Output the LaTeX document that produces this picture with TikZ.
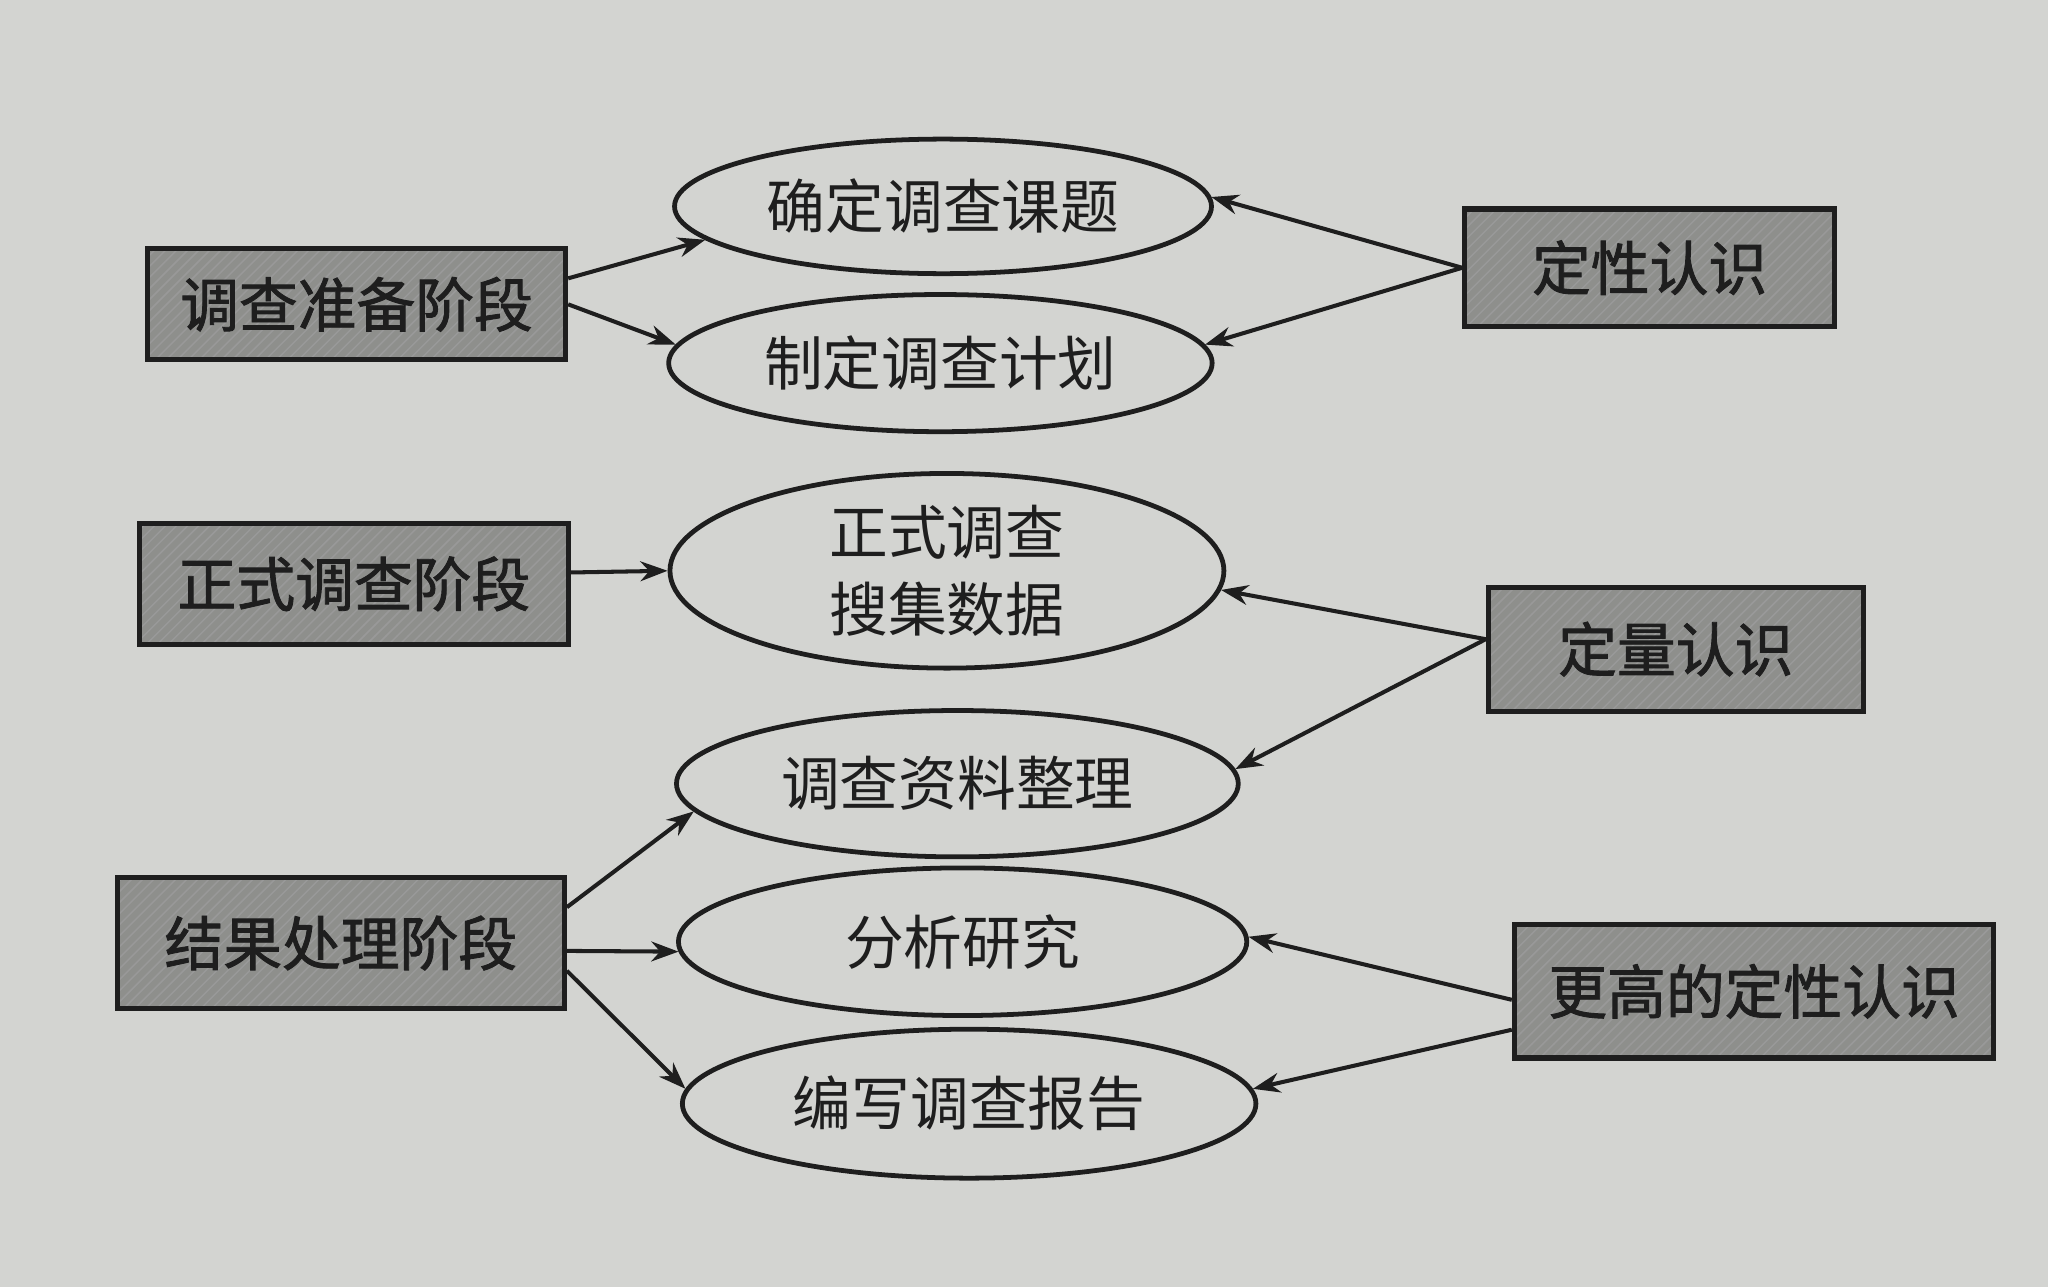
\documentclass[tikz,border=0pt]{standalone}
\usepackage{fontspec}
\setmainfont{Noto Sans CJK SC}[AutoFakeBold=1.5]
\usetikzlibrary{shapes.geometric,arrows.meta,patterns}
\definecolor{paper}{HTML}{D3D4D1}
\definecolor{boxgray}{HTML}{8E8F8C}
\definecolor{ink}{HTML}{1E1E1E}
\begin{document}
\begin{tikzpicture}[x=0.0125cm,y=-0.0125cm,
  every node/.style={font=\fontsize{16}{21}\selectfont, text=ink},
  stagebox/.style={draw=ink, line width=1.4pt,
    preaction={fill=boxgray},
    preaction={pattern=north east lines, pattern color=black!40},
    inner sep=0pt, font=\fontsize{16}{21}\selectfont\bfseries},
  oval/.style={ellipse, draw=ink, line width=1.3pt, inner sep=0pt, align=center},
  arr/.style={draw=ink, line width=1.1pt, -{Stealth[length=0.26cm,width=0.19cm]}}]
\fill[paper] (0,0) rectangle (1568,985);
\useasboundingbox (0,0) rectangle (1568,985);

% left stage boxes
\node[stagebox, minimum width=4cm, minimum height=1.0625cm] (prep) at (273,233) {调查准备阶段};
\node[stagebox, minimum width=4.1cm, minimum height=1.1625cm] (formal) at (271,447) {正式调查阶段};
\node[stagebox, minimum width=4.275cm, minimum height=1.25cm] (result) at (261,722) {结果处理阶段};

% right knowledge boxes
\node[stagebox, minimum width=3.5375cm, minimum height=1.125cm] (qual) at (1263,205) {定性认识};
\node[stagebox, minimum width=3.5875cm, minimum height=1.1875cm] (quant) at (1283,497) {定量认识};
\node[stagebox, minimum width=4.5875cm, minimum height=1.275cm] (higher) at (1343,759) {更高的定性认识};

% ellipses
\node[oval, minimum width=5.1375cm, minimum height=1.2875cm] (e1) at (722,158) {确定调查课题};
\node[oval, minimum width=5.2cm, minimum height=1.3125cm] (e2) at (720,278) {制定调查计划};
\node[oval, minimum width=5.3cm, minimum height=1.8625cm] (e3) at (725,437) {正式调查\\搜集数据};
\node[oval, minimum width=5.375cm, minimum height=1.4cm] (e4) at (733,600) {调查资料整理};
\node[oval, minimum width=5.4375cm, minimum height=1.4125cm] (e5) at (737,721) {分析研究};
\node[oval, minimum width=5.4875cm, minimum height=1.425cm] (e6) at (742,845) {编写调查报告};

% arrows from stages
\draw[arr] (prep.7) -- (e1.188);
\draw[arr] (prep.east) -- (e2.176);
\draw[arr] (formal.3) -- (e3.180);
\draw[arr] (result.9.6) -- (e4.186);
\draw[arr] (result.-2) -- (e5.182);
\draw[arr] (result.-7.7) -- (e6.177);

% arrows from knowledge
\draw[arr] (qual.west) -- (e1.2);
\draw[arr] (qual.west) -- (e2.4);
\draw[arr] (quant.177) -- (e3.-4);
\draw[arr] (quant.177) -- (e4.3);
\draw[arr] (higher.182) -- (e5.1);
\draw[arr] (higher.189) -- (e6.3);
\end{tikzpicture}
\end{document}
